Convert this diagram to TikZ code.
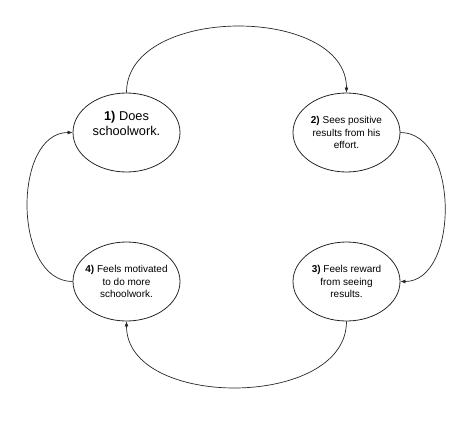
\documentclass[tikz,border=0pt]{standalone}
\usepackage{fontspec}
\setmainfont{Liberation Sans}
\usetikzlibrary{shapes.geometric,arrows.meta}
\begin{document}
\begin{tikzpicture}[x=1pt,y=-1pt,
  stage/.style={ellipse,draw=black!85,line width=0.8pt,minimum width=107pt,minimum height=79pt,inner ysep=0pt,inner xsep=-8pt,align=center,font=\fontsize{10}{12.5}\selectfont},
  bigstage/.style={stage,font=\fontsize{12.8}{15.5}\selectfont},
  flow/.style={draw=black!85,line width=0.7pt,-{Latex[length=5pt,width=4pt]}}]
\useasboundingbox (0,0) rectangle (474,431);
\node[bigstage] (e1) at (126.5,132.5) {\textbf{1)} Does\\schoolwork.\\[3pt]};
\node[stage] (e2) at (346.5,132.5) {\textbf{2)} Sees positive\\results from his\\effort.};
\node[stage] (e3) at (346.5,281.5) {\textbf{3)} Feels reward\\from seeing\\results.};
\node[stage] (e4) at (126.5,281.5) {\textbf{4)} Feels motivated\\to do more\\schoolwork.};
\draw[flow] (e1.north) .. controls +(0,-88) and +(0,-88) .. (e2.north);
\draw[flow] (e2.east) .. controls +(59,0) and +(59,0) .. (e3.east);
\draw[flow] (e3.south) .. controls +(0,88) and +(0,88) .. (e4.south);
\draw[flow] (e4.west) .. controls +(-60,0) and +(-60,0) .. (e1.west);
\end{tikzpicture}
\end{document}
